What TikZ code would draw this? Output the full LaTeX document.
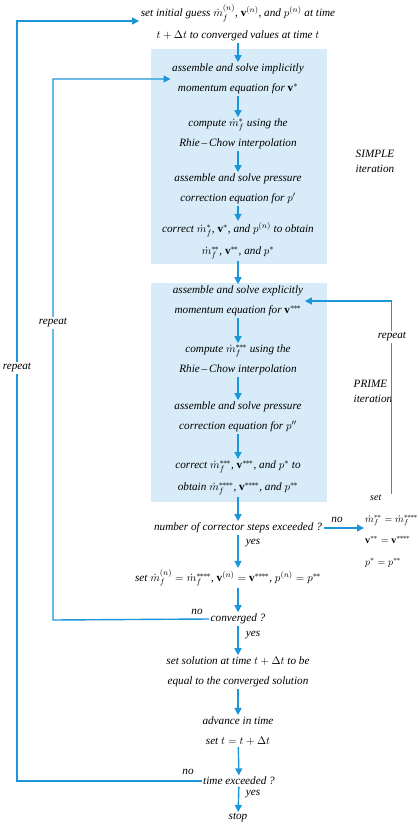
\documentclass[tikz,border=0pt]{standalone}
\usepackage{fontspec}
\setmainfont{Liberation Serif}
\usetikzlibrary{arrows.meta}
\definecolor{flow}{RGB}{27,150,216}
\definecolor{boxfill}{RGB}{215,236,248}
\newcommand{\sii}{{*\mkern-2mu*}}
\newcommand{\siii}{{*\mkern-2mu*\mkern-2mu*}}
\newcommand{\siv}{{*\mkern-2mu*\mkern-2mu*\mkern-2mu*}}
\begin{document}
\begin{tikzpicture}[x=1pt,y=-1pt,
  txt/.style={font=\fontsize{11.2}{20}\selectfont\itshape, align=center, inner sep=1.5pt},
  tall/.style={font=\fontsize{11.2}{22}\selectfont\itshape},
  arr/.style={draw=flow, line width=1.4pt, -{Triangle[length=7pt,width=7pt]}},
  lab/.style={font=\fontsize{11.2}{12}\selectfont\itshape, inner sep=1pt},
  rep/.style={lab, fill=white, inner sep=1.5pt}]
\useasboundingbox (0,0) rectangle (416,825);
\fill[boxfill] (151,49) rectangle (327,264);
\fill[boxfill] (151,283) rectangle (327,502);

\node[txt, tall] (n0) at (238,23) {set initial guess $\dot m_f^{(n)}$, $\mathbf{v}^{(n)}$, and $p^{(n)}$ at time\\ $t+\Delta t$ to converged values at time $t$};
\node[txt] (s1) at (238,79) {assemble and solve implicitly\\ momentum equation for $\mathbf{v}^{*}$};
\node[txt] (s2) at (238,134) {compute $\dot m_f^{*}$ using the\\ Rhie\,--\,Chow interpolation};
\node[txt] (s3) at (238,189) {assemble and solve pressure\\ correction equation for $p'$};
\node[txt, tall] (s4) at (238,241) {correct $\dot m_f^{*}$, $\mathbf{v}^{*}$, and $p^{(n)}$ to obtain\\ $\dot m_f^{\sii}$, $\mathbf{v}^{\sii}$, and $p^{*}$};
\node[lab, align=left] (simple) at (375,161) {SIMPLE\\[3pt] iteration};

\node[txt] (p1) at (238,301) {assemble and solve explicitly\\ momentum equation for $\mathbf{v}^{\siii}$};
\node[txt] (p2) at (238,360) {compute $\dot m_f^{\siii}$ using the\\ Rhie\,--\,Chow interpolation};
\node[txt] (p3) at (238,417) {assemble and solve pressure\\ correction equation for $p''$};
\node[txt, tall] (p4) at (238,478) {correct $\dot m_f^{\siii}$, $\mathbf{v}^{\siii}$, and $p^{*}$ to\\ obtain $\dot m_f^{\siv}$, $\mathbf{v}^{\siv}$, and $p^{\sii}$};
\node[lab, align=left] (prime) at (373,391) {PRIME\\[3pt] iteration};

\node[txt] (d1) at (238,528) {number of corrector steps exceeded ?};
\node[txt, align=left, anchor=west, inner sep=1pt, font=\fontsize{10}{21.5}\selectfont\itshape] (setr) at (364,531) {\ \ set\\ $\dot m_f^{\sii}=\dot m_f^{\siv}$\\ $\mathbf{v}^{\sii}=\mathbf{v}^{\siv}$\\ $p^{*}=p^{\sii}$};
\node[txt] (n6) at (228,578) {set $\dot m_f^{(n)}=\dot m_f^{\siv}$, $\mathbf{v}^{(n)}=\mathbf{v}^{\siv}$, $p^{(n)}=p^{\sii}$};
\node[txt] (d2) at (238,619) {converged ?};
\node[txt] (n7) at (238,672) {set solution at time $t+\Delta t$ to be\\ equal to the converged solution};
\node[txt] (n8) at (238,731) {advance in time\\ set $t=t+\Delta t$};
\node[txt] (d3) at (239,781) {time exceeded ?};
\node[txt] (stop) at (238,818) {stop};

% main flow
\draw[arr] (n0) -- (s1);
\draw[arr] (s1) -- (s2);
\draw[arr] (s2) -- (s3);
\draw[arr] (s3) -- (s4);
\draw[arr] (s4) -- (p1);
\draw[arr] (p1) -- (p2);
\draw[arr] (p2) -- (p3);
\draw[arr] (p3) -- (p4);
\draw[arr] (p4) -- (d1);
\draw[arr] (d1.south) -- (d1.south |- n6.north);
\draw[arr] (d1.south |- n6.south) -- (d2.north);
\draw[arr] (d2) -- (n7);
\draw[arr] (n7) -- (n8);
\draw[arr] (n8) -- (d3);
\draw[arr] (d3) -- (stop);

% branches
\draw[arr] (d1.east) -- (setr.west |- d1.east);
\draw[arr] (setr.north) -- (setr.north |- p1.east) -- (p1.east);
\coordinate (innerc) at (53,620);
\draw[arr] (d2.west) -- (innerc) |- (s1.west);
\coordinate (outerc) at (17,781);
\draw[arr] (d3.west) -- (outerc) |- ([yshift=2pt]n0.west);

% labels
\node[lab] (no1) at (337,520) {no};
\node[lab] (yes1) at (253,543) {yes};
\node[lab] (no2) at (197,612) {no};
\node[lab] (yes2) at (253,635) {yes};
\node[lab] (no3) at (188,772) {no};
\node[lab] (yes3) at (253,794) {yes};
\node[rep] (rep1) at (53,323) {repeat};
\node[rep] (rep2) at (17,368) {repeat};
\node[rep] (rep3) at (392,337) {repeat};
\end{tikzpicture}
\end{document}
